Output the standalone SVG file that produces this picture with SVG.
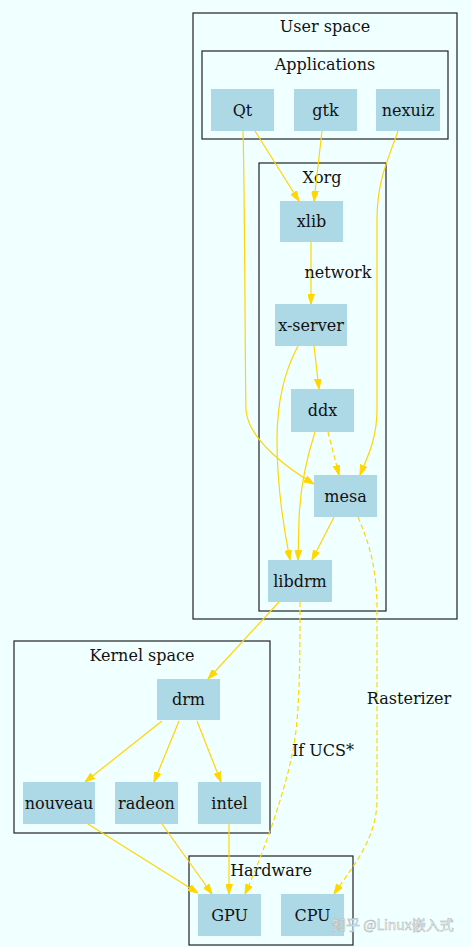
<svg xmlns="http://www.w3.org/2000/svg" width="471" height="947" viewBox="0 0 471 947">
<style>
text{font-family:"DejaVu Serif","Liberation Serif",serif;font-size:16px;fill:#111;text-anchor:middle}
.cl{fill:none;stroke:#222;stroke-width:1.2}
.n{fill:#add8e6}
.e{fill:none;stroke:#ffd700;stroke-width:1.2}
.d{stroke-dasharray:5,3}
.wm{font-family:"Noto Sans CJK SC","DejaVu Sans",sans-serif;font-size:14px;fill:#fff;stroke:#a9b2b2;stroke-width:0.5;text-anchor:start}
</style>
<defs>
<marker id="a" markerWidth="10" markerHeight="7" refX="10" refY="3.5" orient="auto" markerUnits="userSpaceOnUse">
<path d="M0,0 L10,3.5 L0,7 z" fill="#ffd700" stroke="#ffd700" stroke-width="1"/>
</marker>
</defs>
<rect width="471" height="947" fill="#f0ffff"/>
<g id="clusters">
<g id="cluster_user"><rect class="cl" x="193" y="13" width="264" height="606"/><text x="325" y="32">User space</text></g>
<g id="cluster_apps"><rect class="cl" x="202" y="51" width="246" height="88"/><text x="325" y="70">Applications</text></g>
<g id="cluster_xorg"><rect class="cl" x="259" y="163" width="127" height="448"/><text x="322" y="183">Xorg</text></g>
<g id="cluster_kernel"><rect class="cl" x="14" y="641" width="256" height="192"/><text x="142" y="661">Kernel space</text></g>
<g id="cluster_hw"><rect class="cl" x="189" y="856" width="164" height="89"/><text x="271" y="876">Hardware</text></g>
</g>
<g id="edges">
<path class="e" d="M255,131 L299,201" marker-end="url(#a)"/>
<path class="e" d="M322,131 L314,201" marker-end="url(#a)"/>
<path class="e" d="M243,131 C245,200 245,380 246,410 C248,440 290,470 314,484" marker-end="url(#a)"/>
<path class="e" d="M398,131 C388,160 377,180 377,220 L377,410 C377,440 366,460 360,475" marker-end="url(#a)"/>
<path class="e" d="M311,242 L311,304" marker-end="url(#a)"/>
<text x="338" y="278">network</text>
<path class="e" d="M314,346 L319,389" marker-end="url(#a)"/>
<path class="e" d="M298,346 C285,370 277,400 277,440 C277,490 284,530 290,560" marker-end="url(#a)"/>
<path class="e" d="M315,432 C306,460 300,490 299,520 L298,560" marker-end="url(#a)"/>
<path class="e d" d="M328,432 L339,475" marker-end="url(#a)"/>
<path class="e" d="M334,517 L312,560" marker-end="url(#a)"/>
<path class="e d" d="M358,517 C370,545 377,570 377,610 L377,800 C377,840 350,870 334,894" marker-end="url(#a)"/>
<text x="409" y="704">Rasterizer</text>
<path class="e" d="M279,602 L208,679" marker-end="url(#a)"/>
<path class="e d" d="M300,602 C300,660 300,720 292,755 C285,790 265,850 245,894" marker-end="url(#a)"/>
<text x="323" y="756">If UCS*</text>
<path class="e" d="M162,721 L85,782" marker-end="url(#a)"/>
<path class="e" d="M179,721 L154,782" marker-end="url(#a)"/>
<path class="e" d="M197,721 L221,782" marker-end="url(#a)"/>
<path class="e" d="M88,824 L198,893" marker-end="url(#a)"/>
<path class="e" d="M162,824 L212,894" marker-end="url(#a)"/>
<path class="e" d="M229,824 L229,894" marker-end="url(#a)"/>
</g>
<g id="Qt"><rect class="n" x="211" y="89" width="63" height="42"/><text x="242.5" y="116">Qt</text></g>
<g id="gtk"><rect class="n" x="294" y="89" width="63" height="42"/><text x="325.5" y="116">gtk</text></g>
<g id="nexuiz"><rect class="n" x="376" y="89" width="64" height="42"/><text x="408" y="116">nexuiz</text></g>
<g id="xlib"><rect class="n" x="280" y="201" width="63" height="41"/><text x="311.5" y="227">xlib</text></g>
<g id="x-server"><rect class="n" x="275" y="304" width="72" height="42"/><text x="311" y="331">x-server</text></g>
<g id="ddx"><rect class="n" x="291" y="389" width="63" height="43"/><text x="322.5" y="416">ddx</text></g>
<g id="mesa"><rect class="n" x="314" y="475" width="63" height="42"/><text x="345.5" y="502">mesa</text></g>
<g id="libdrm"><rect class="n" x="268" y="560" width="64" height="42"/><text x="300" y="587">libdrm</text></g>
<g id="drm"><rect class="n" x="157" y="679" width="63" height="41"/><text x="188.5" y="705">drm</text></g>
<g id="nouveau"><rect class="n" x="23" y="782" width="72" height="42"/><text x="59" y="809">nouveau</text></g>
<g id="radeon"><rect class="n" x="115" y="782" width="63" height="42"/><text x="146.5" y="809">radeon</text></g>
<g id="intel"><rect class="n" x="198" y="782" width="63" height="42"/><text x="229.5" y="809">intel</text></g>
<g id="GPU"><rect class="n" x="198" y="894" width="63" height="42"/><text x="229.5" y="921">GPU</text></g>
<g id="CPU"><rect class="n" x="281" y="894" width="63" height="42"/><text x="312.5" y="921">CPU</text></g>
<text class="wm" x="332" y="930">知乎 @Linux嵌入式</text>
</svg>
